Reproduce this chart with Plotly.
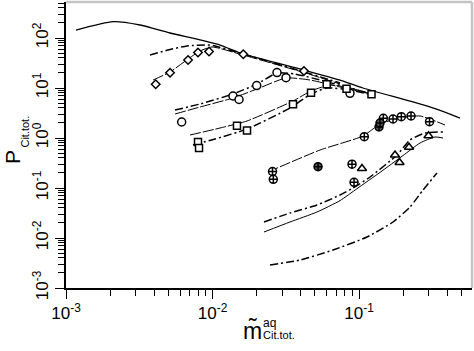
import plotly.graph_objects as go

# ---- model curves ----
solid_x = [0.00117, 0.00209, 0.0032, 0.00513, 0.01125, 0.01615, 0.0421, 0.0742, 0.1065, 0.305, 0.489]
solid_y = [144.5, 211.8, 182, 125.9, 72.4, 47.9, 22.9, 14.45, 10.0, 4.17, 2.51]

dia_dd_x = [0.003745, 0.00497, 0.0067, 0.00962, 0.01615, 0.0421, 0.0742]
dia_dd_y = [45.7, 57.5, 69.2, 72.4, 47.9, 20.9, 12.6]
dia_ld_x = [0.00393, 0.00513, 0.00681, 0.00822, 0.00992, 0.01615, 0.0421, 0.0742]
dia_ld_y = [14.45, 20.9, 38.0, 55.0, 66.1, 45.7, 20.4, 12.0]

cir_dd_x = [0.00555, 0.00822, 0.0138, 0.02013, 0.02756, 0.03657, 0.0542, 0.0868, 0.1286]
cir_dd_y = [3.63, 4.79, 7.59, 12.0, 19.95, 19.05, 14.45, 10.0, 7.24]
cir_ld_x = [0.00555, 0.00822, 0.0138, 0.02013, 0.03175, 0.04629, 0.0742, 0.1286]
cir_ld_y = [3.02, 4.17, 6.31, 9.55, 15.85, 14.45, 10.47, 7.24]

sq_ld_x = [0.00702, 0.01125, 0.0172, 0.03544, 0.04703, 0.0634, 0.0868, 0.1286]
sq_ld_y = [1.148, 1.585, 2.188, 5.50, 8.71, 11.48, 10.0, 7.24]
sq_dd_x = [0.00736, 0.0104, 0.0172, 0.0338, 0.04703, 0.0605, 0.0868, 0.1286]
sq_dd_y = [0.724, 0.955, 1.514, 3.98, 7.59, 10.0, 9.12, 6.92]

cc_ld_x = [0.02392, 0.0542, 0.1065, 0.1391, 0.1905, 0.2609, 0.3865]
cc_ld_y = [0.209, 0.575, 1.096, 1.905, 2.51, 2.754, 1.82]

tri_dd_x = [0.02247, 0.0338, 0.05167, 0.0742, 0.091, 0.1189, 0.1817, 0.2229, 0.2822, 0.3745]
tri_dd_y = [0.0209, 0.0316, 0.0457, 0.0724, 0.1, 0.166, 0.457, 0.912, 1.259, 1.318]
tri_th_x = [0.02247, 0.0338, 0.05167, 0.0742, 0.0969, 0.1391, 0.1996, 0.2609, 0.330, 0.3745]
tri_th_y = [0.01318, 0.0209, 0.0331, 0.0560, 0.097, 0.205, 0.445, 0.794, 1.047, 1.0]

low_dd_x = [0.0247, 0.03957, 0.06646, 0.1134, 0.1707, 0.2229, 0.2735, 0.3406]
low_dd_y = [0.00288, 0.00363, 0.00575, 0.01047, 0.0209, 0.0417, 0.0912, 0.1995]

# ---- measured points ----
dia_x = [0.004095, 0.00513, 0.00681, 0.00796, 0.00947, 0.01623, 0.0421]
dia_y = [11.86, 20.2, 36.3, 51.3, 53.7, 47.2, 21.9]
cir_x = [0.00616, 0.0138, 0.01517, 0.02003, 0.02756, 0.03175, 0.0868]
cir_y = [2.09, 6.92, 5.89, 11.2, 20.4, 16.1, 7.83]
sq_x = [0.00796, 0.00809, 0.01469, 0.0172, 0.03544, 0.04703, 0.0602, 0.0822, 0.1217]
sq_y = [0.832, 0.631, 1.762, 1.413, 4.72, 8.05, 11.9, 9.68, 7.52]
cco_x = [0.02568, 0.026, 0.0896, 0.0925, 0.1087, 0.1466, 0.1707, 0.1945, 0.2265, 0.303]
cco_y = [0.2138, 0.1493, 0.2992, 0.130, 1.062, 2.477, 2.399, 2.667, 2.754, 2.118]
ccf_x = [0.05254, 0.1369, 0.1391]
ccf_y = [0.2667, 1.66, 1.995]
tri_x = [0.1048, 0.1761, 0.189, 0.2195, 0.2981]
tri_y = [0.2455, 0.457, 0.3236, 0.652, 1.112]

xtick_vals = [1e-3, 1e-2, 1e-1]
xtick_text = ["10<sup>-3</sup>", "10<sup>-2</sup>", "10<sup>-1</sup>"]
ytick_vals = [1e-3, 1e-2, 1e-1, 1e0, 1e1, 1e2]
ytick_text = ["10<sup>-3</sup>", "10<sup>-2</sup>", "10<sup>-1</sup>", "10<sup>0</sup>",
              "10<sup>1</sup>", "10<sup>2</sup>"]

DD = "8px,3px,2px,3px"
LD = "11px,2px"

fig = go.Figure()

def curve(x, y, dash, width):
    fig.add_trace(go.Scatter(x=x, y=y, mode="lines",
                             line=dict(color="black", width=width, dash=dash,
                                       shape="spline", smoothing=0.55),
                             showlegend=False, hoverinfo="skip"))

curve(solid_x, solid_y, "solid", 1.3)
curve(dia_dd_x, dia_dd_y, DD, 1.5)
curve(dia_ld_x, dia_ld_y, LD, 1.0)
curve(cir_dd_x, cir_dd_y, DD, 1.5)
curve(cir_ld_x, cir_ld_y, LD, 1.0)
curve(sq_ld_x, sq_ld_y, LD, 1.0)
curve(sq_dd_x, sq_dd_y, DD, 1.5)
curve(cc_ld_x, cc_ld_y, LD, 1.0)
curve(tri_dd_x, tri_dd_y, DD, 1.5)
curve(tri_th_x, tri_th_y, "solid", 1.0)
curve(low_dd_x, low_dd_y, DD, 1.5)

def pts(x, y, symbol, size, fill="white"):
    fig.add_trace(go.Scatter(x=x, y=y, mode="markers",
                             marker=dict(symbol=symbol, size=size, color=fill,
                                         line=dict(color="black", width=1.5)),
                             showlegend=False))

pts(dia_x, dia_y, "diamond", 6.5)
pts(cir_x, cir_y, "circle", 8)
pts(sq_x, sq_y, "square", 7)
pts(cco_x, cco_y, "circle-cross", 8)
pts(ccf_x, ccf_y, "circle-cross", 8, fill="#555555")
pts(tri_x, tri_y, "triangle-up", 8)

tickfont = dict(family="Liberation Sans, Arial, sans-serif", size=17, color="black")

fig.update_xaxes(type="log", range=[-3, -0.2287], showline=True, linecolor="black",
                 linewidth=2, ticks="outside", ticklen=9, tickwidth=1.3, tickcolor="black",
                 tickvals=xtick_vals, ticktext=xtick_text, tickfont=tickfont,
                 showgrid=False, zeroline=False,
                 minor=dict(ticks="outside", ticklen=6, tickwidth=1.2, tickcolor="black",
                            dtick="D1", showgrid=False))
fig.update_yaxes(type="log", range=[-3, 2.72], showline=True, linecolor="black",
                 linewidth=2, ticks="outside", ticklen=9, tickwidth=1.3, tickcolor="black",
                 tickvals=ytick_vals, ticktext=ytick_text, tickfont=tickfont, tickangle=-90,
                 showgrid=False, zeroline=False,
                 minor=dict(ticks="outside", ticklen=6, tickwidth=1.2, tickcolor="black",
                            dtick="D1", showgrid=False))

# grey frame at top and right
fig.add_shape(type="line", xref="paper", yref="paper", x0=0, x1=1, y0=1, y1=1,
              line=dict(color="#c4c4c4", width=2.5))
fig.add_shape(type="line", xref="paper", yref="paper", x0=1, x1=1, y0=0, y1=1,
              line=dict(color="#c4c4c4", width=2.5))

tfont = "Liberation Sans, Arial, sans-serif"
ann = [
    dict(text="P", x=-0.1330, y=0.458, textangle=-90, font=dict(size=21)),
    dict(text="Cit.tot.", x=-0.1010, y=0.547, textangle=-90, font=dict(size=11)),
    dict(text="m\u0303", x=0.4600, y=-0.150, font=dict(size=23)),
    dict(text="aq", x=0.5010, y=-0.122, font=dict(size=12)),
    dict(text="Cit.tot.", x=0.5250, y=-0.166, font=dict(size=11)),
]
for a in ann:
    a["font"].update(family=tfont, color="black")
    fig.add_annotation(xref="paper", yref="paper", showarrow=False,
                       xanchor="center", yanchor="middle", borderpad=0, **a)

fig.update_layout(width=474, height=351, margin=dict(l=66, r=2, t=2, b=63),
                  paper_bgcolor="white", plot_bgcolor="white")

fig.write_html("out.html")
